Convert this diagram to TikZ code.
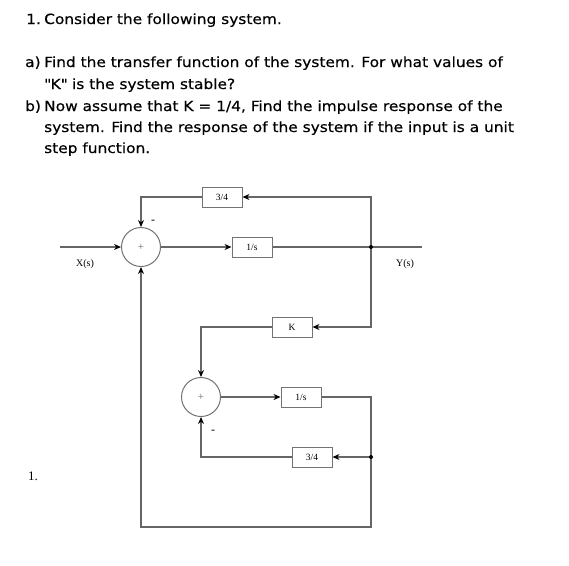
\documentclass[tikz,border=0pt]{standalone}
\usepackage{fontspec}
\setmainfont{DejaVu Sans}[FakeStretch=1.1,FakeBold=0.4]
\newfontfamily\blockfont{Liberation Serif}
\usetikzlibrary{arrows.meta}

\tikzset{
  blk/.style={draw=gray!90!black, line width=1pt, fill=white, minimum width=40pt, minimum height=20pt, inner sep=0pt, font=\blockfont\fontsize{9.5}{9.5}\selectfont},
  sumnode/.style={draw=gray!90!black, line width=1pt, circle, minimum size=39pt, inner sep=0pt, text=gray!80!black, font=\blockfont\fontsize{11}{11}\selectfont},
  wire/.style={gray!80!black, line width=1.2pt, >={Stealth[length=7pt,width=6pt,color=black]}},
  qtext/.style={anchor=base west, inner sep=0pt, text=black, font=\fontsize{14}{14}\selectfont}
}

\begin{document}
\begin{tikzpicture}[x=1pt,y=-1pt]
\useasboundingbox (0,0) rectangle (569,565);
% question
\node[qtext] (n1) at (26,24) {1.};
\node[qtext] (t1) at (44,24) {Consider the following system.};
\node[qtext] (na) at (25,67) {a)};
\node[qtext] (ta) at (44,67) {Find the transfer function of the system. For what values of};
\node[qtext] (ta2) at (44,89) {\textquotedbl K\textquotedbl{} is the system stable?};
\node[qtext] (nb) at (25,111) {b)};
\node[qtext] (tb) at (44,111) {Now assume that K = 1/4, Find the impulse response of the};
\node[qtext] (tb2) at (44,132) {system. Find the response of the system if the input is a unit};
\node[qtext] (tb3) at (44,153) {step function.};

% blocks
\node[sumnode] (s1) at (141,247) {+};
\node[blk] (g1) at (222,197) {3/4};
\node[blk] (i1) at (252,247) {1/s};
\node[blk] (k) at (292,327) {K};
\node[sumnode] (s2) at (201,397) {+};
\node[blk] (i2) at (301,397) {1/s};
\node[blk] (g2) at (312,457) {3/4};

\coordinate (xin) at (60,247);
\coordinate (yout) at (422,247);
\coordinate (j1) at (371,247);
\coordinate (j2) at (371,457);
\coordinate (c2) at (371,527);

% signals
\draw[wire,->] (xin) -- (s1);
\draw[wire,->] (s1) -- (i1);
\draw[wire] (i1) -- (yout);
\draw[wire,->] (j1) |- (g1);
\draw[wire,->] (g1) -| (s1);
\draw[wire,->] (j1) |- (k);
\draw[wire,->] (k) -| (s2);
\draw[wire,->] (s2) -- (i2);
\draw[wire,->] (i2) -| (c2) -| (s1);
\draw[wire,->] (j2) -- (g2);
\draw[wire,->] (g2) -| (s2);
\foreach \j in {j1,j2}
  \fill[black] (\j) circle (2pt);

% labels
\node[font=\blockfont\fontsize{10}{10}\selectfont] (xs) at (85,264) {X(s)};
\node[font=\blockfont\fontsize{10}{10}\selectfont] (ys) at (405,264) {Y(s)};
\node[font=\blockfont\fontsize{12}{12}\selectfont] (m1) at (153,222) {-};
\node[font=\blockfont\fontsize{12}{12}\selectfont] (m2) at (213,432) {-};
\node[font=\blockfont\fontsize{13}{13}\selectfont] (lab) at (33,476) {1.};
\end{tikzpicture}
\end{document}
